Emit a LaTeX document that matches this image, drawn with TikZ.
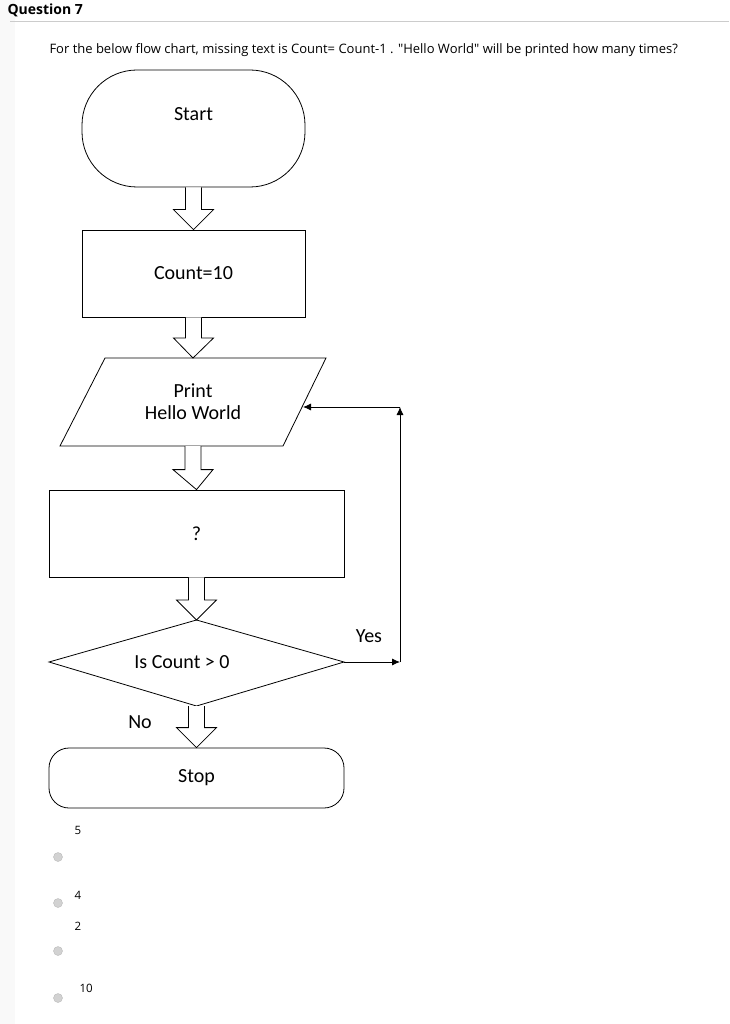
\documentclass[tikz,border=0pt]{standalone}
\usepackage{fontspec}
\setmainfont{Carlito}
\newfontfamily\osans{Open Sans}
\usetikzlibrary{calc,arrows.meta}
\begin{document}
\begin{tikzpicture}[x=1pt,y=-1pt,
  box/.style={draw,line width=0.8pt,inner sep=0pt},
  lbl/.style={font=\fontsize{20}{22}\selectfont},
  barrow/.style={draw,line width=0.8pt,fill=white,line join=miter},
  loop/.style={line width=0.8pt,-{Latex[length=8pt,width=7pt]}},
  radio/.style={circle,fill=gray!35,draw=gray!55,minimum size=9pt,inner sep=0pt},
  opt/.style={font=\osans\fontsize{11.5}{13}\selectfont,anchor=west}]
\useasboundingbox (0,0) rectangle (729,1024);
\fill[gray!5] (0,0) rectangle (15,1024);
\node[anchor=west,font=\osans\bfseries\fontsize{14}{16}\selectfont] (q) at (4,10) {Question 7};
\draw[gray!40,line width=0.8pt] (10,21) -- (729,21);
\node[anchor=west,font=\osans\fontsize{13}{15}\selectfont] (qt) at (46,50) {For the below flow chart, missing text is Count= Count-1 . "Hello World" will be printed how many times?};
\newcommand\barr[2]{\path[barrow] let \p1=(#1), \p2=(#2) in
  (\x1-8pt,\y1) -- (\x1-8pt,\y2+20pt) -- (\x1-20pt,\y2+20pt) -- (\x2,\y2) -- (\x1+20pt,\y2+20pt) -- (\x1+8pt,\y2+20pt) -- (\x1+8pt,\y1);}
% nodes
\node[box,rounded corners=55pt,minimum width=223pt,minimum height=117pt] (start) at (193.5,128.5) {};
\node[lbl] at (193.5,114) {Start};
\node[box,minimum width=223pt,minimum height=87pt,lbl] (cnt) at (193.5,273.5) {Count=10};
\coordinate (p1) at (105,358); \coordinate (p2) at (326,358);
\coordinate (p3) at (283,446); \coordinate (p4) at (60,446);
\draw[line width=0.8pt] (p1) -- (p2) -- (p3) -- (p4) -- cycle;
\node[lbl,align=center] (pr) at (193,402) {Print\\Hello World};
\coordinate (prTop) at (193,358); \coordinate (prBot) at (193,446);
\coordinate (prR) at (303,407);
\node[box,minimum width=295pt,minimum height=87pt,lbl] (dec) at (196.5,533.5) {?};
\coordinate (dT) at (196.5,620); \coordinate (dB) at (196.5,706);
\coordinate (dL) at (49,662); \coordinate (dR) at (344,662);
\draw[line width=0.8pt] (dT) -- (dR) -- (dB) -- (dL) -- cycle;
\node[lbl] (isc) at (182,662) {Is Count > 0};
\node[box,rounded corners=20pt,minimum width=295pt,minimum height=60pt,lbl] (stop) at (196.5,778) {Stop};
% block arrows
\barr{start.south}{cnt.north}
\barr{cnt.south}{prTop}
\barr{prBot}{dec.north}
\barr{dec.south}{dT}
\barr{dB}{stop.north}
% loop
\coordinate (c1) at (400,662); \coordinate (c2) at (400,407);
\draw[loop] (dR) -- (c1);
\draw[loop] (c1) -- (c2);
\draw[loop] (c2) -- (prR);
\node[lbl] (yes) at (369,636) {Yes};
\node[lbl] (no) at (140,722) {No};
% options
\node[radio] (r1) at (58,857) {}; \node[opt] (o1) at (71,830) {5};
\node[radio] (r2) at (58,903) {}; \node[opt] (o2) at (71,895) {4};
\node[radio] (r3) at (58,951) {}; \node[opt] (o3) at (71,926) {2};
\node[radio] (r4) at (58,998) {}; \node[opt] (o4) at (76,988) {10};
\end{tikzpicture}
\end{document}
